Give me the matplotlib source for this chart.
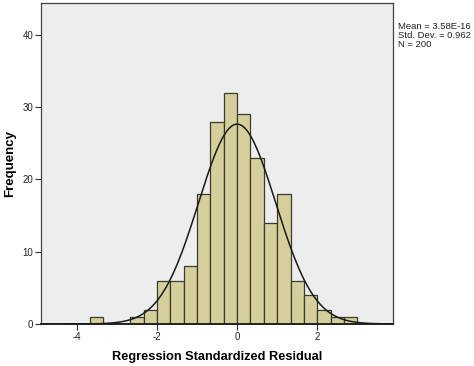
import numpy as np
import matplotlib
matplotlib.use("Agg")
import matplotlib.pyplot as plt

# Data
bin_edges_left = [-3.6667, -3.3333, -3.0, -2.6667, -2.3333, -2.0, -1.6667, -1.3333, -1.0,
                  -0.6667, -0.3333, 0.0, 0.3333, 0.6667, 1.0, 1.3333, 1.6667, 2.0, 2.3333, 2.6667]
counts = [1, 0, 0, 1, 2, 6, 6, 8, 18, 28, 32, 29, 23, 14, 18, 6, 4, 2, 1, 1]
bin_width = 1.0 / 3.0
mean = 3.58e-16
std = 0.962
n = 200
x_ticks = [-4, -2, 0, 2]
y_ticks = [0, 10, 20, 30, 40]

plt.rcParams['font.family'] = ['Liberation Sans', 'DejaVu Sans']
plt.rcParams['axes.unicode_minus'] = False

fig = plt.figure(figsize=(4.74, 3.66), dpi=100)
ax = fig.add_axes([0.0865, 0.1148, 0.7425, 0.877])
ax.set_facecolor('#ededed')

ax.bar(bin_edges_left, counts, width=bin_width, align='edge',
       color='#d5d09b', edgecolor='#3a3a30', linewidth=0.9, zorder=2)

xs = np.linspace(-4.9, 3.9, 400)
pdf = n * bin_width * np.exp(-0.5 * ((xs - mean) / std) ** 2) / (std * np.sqrt(2 * np.pi))
ax.plot(xs, pdf, color='#1a1a1a', linewidth=1.1, zorder=3)

ax.set_xlim(-4.89, 3.885)
ax.set_ylim(0, 44.4)
ax.set_xticks(x_ticks)
ax.set_yticks(y_ticks)
ax.tick_params(axis='both', labelsize=7, length=4, width=0.8, color='#333333',
               labelcolor='#222222', pad=1.5)
for s in ax.spines.values():
    s.set_color('#444444')
    s.set_linewidth(0.9)
ax.spines['bottom'].set_linewidth(1.4)
ax.spines['bottom'].set_color('#222222')

ax.set_xlabel('Regression Standardized Residual', fontsize=9.2, fontweight='bold', labelpad=7)
ax.set_ylabel('Frequency', fontsize=9.5, fontweight='bold', labelpad=5)

fig.text(0.840, 0.941, 'Mean = 3.58E-16\nStd. Dev. = 0.962\nN = 200',
         fontsize=6.8, va='top', ha='left', color='#222222', linespacing=1.0)

fig.savefig('out.png', dpi=100, facecolor='white')
